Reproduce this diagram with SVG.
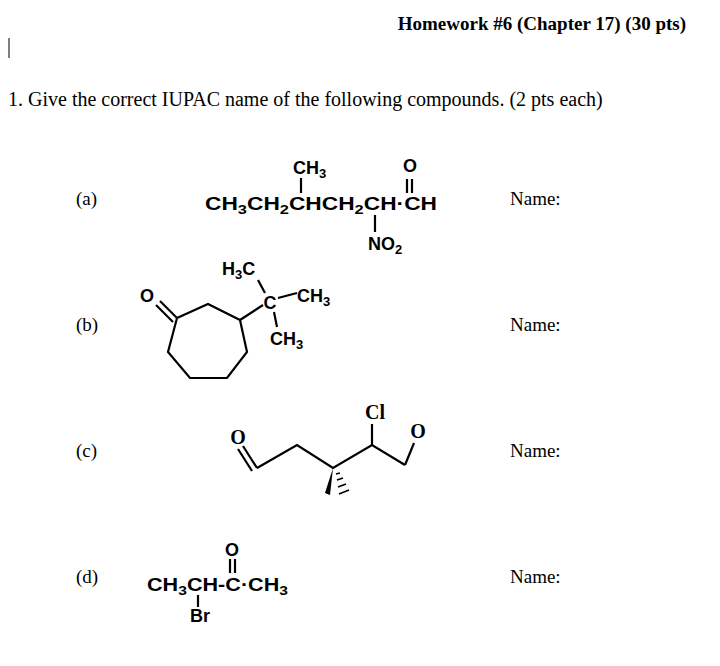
<svg xmlns="http://www.w3.org/2000/svg" width="720" height="666" viewBox="0 0 720 666">
<style>
.s{font-family:"Liberation Serif",serif;font-size:19px;fill:#000}
.c{font-family:"Liberation Sans",Arial,sans-serif;font-size:18px;font-weight:bold;fill:#000}
.sub{font-size:13px}
.b{stroke:#000;stroke-width:2.2;fill:none}
</style>
<rect width="720" height="666" fill="#fff"/>
<text x="686" y="30" text-anchor="end" class="s" style="font-weight:bold">Homework #6 (Chapter 17) (30 pts)</text>
<line x1="9" y1="38" x2="9" y2="58" stroke="#000" stroke-width="1"/>
<text x="8" y="106" class="s" style="font-size:20px">1.  Give the correct IUPAC name of the following compounds. (2 pts each)</text>
<g id="labels">
<text x="76" y="205" class="s">(a)</text><text x="510" y="205" class="s">Name:</text>
<text x="76" y="331" class="s">(b)</text><text x="510" y="331" class="s">Name:</text>
<text x="76" y="457" class="s">(c)</text><text x="510" y="457" class="s">Name:</text>
<text x="76" y="583" class="s">(d)</text><text x="510" y="583" class="s">Name:</text>
</g>
<g id="a">
<text x="293" y="174" class="c">CH<tspan class="sub" dy="4">3</tspan></text>
<text x="403" y="172" class="c">O</text>
<text x="205" y="210" class="c" textLength="232" lengthAdjust="spacingAndGlyphs">CH<tspan class="sub" dy="4">3</tspan><tspan dy="-4">CH</tspan><tspan class="sub" dy="4">2</tspan><tspan dy="-4">CHCH</tspan><tspan class="sub" dy="4">2</tspan><tspan dy="-4">CH·CH</tspan></text>
<text x="368" y="250" class="c">NO<tspan class="sub" dy="4">2</tspan></text>
<line class="b" x1="301" y1="178" x2="301" y2="193"/>
<line class="b" x1="375" y1="215" x2="375" y2="232"/>
<line class="b" x1="407" y1="179" x2="407" y2="193"/>
<line class="b" x1="412" y1="179" x2="412" y2="193"/>
</g>
<g id="b">
<polygon class="b" points="177,318 208,304 240,320 247,352 227,378 190,378 168,352"/>
<line class="b" x1="177" y1="318" x2="160" y2="301"/>
<line class="b" x1="173" y1="322" x2="156" y2="305"/>
<text x="147" y="302" class="c" text-anchor="middle">O</text>
<line class="b" x1="240" y1="320" x2="263" y2="305"/>
<text x="270" y="309" class="c" text-anchor="middle">C</text>
<text x="222" y="275" class="c">H<tspan class="sub" dy="4">3</tspan><tspan dy="-4">C</tspan></text>
<text x="297" y="302" class="c">CH<tspan class="sub" dy="4">3</tspan></text>
<text x="270" y="345" class="c">CH<tspan class="sub" dy="4">3</tspan></text>
<line class="b" x1="258" y1="280" x2="265" y2="293"/>
<line class="b" x1="278" y1="298" x2="297" y2="293"/>
<line class="b" x1="274" y1="312" x2="277" y2="327"/>
</g>
<g id="c">
<polyline class="b" points="257,468 297,445 333,468 372,445 405,465"/>
<line class="b" x1="257" y1="468" x2="243" y2="446"/>
<line class="b" x1="252" y1="471" x2="238" y2="449"/>
<line class="b" x1="405" y1="465" x2="414" y2="443"/>
<line class="b" x1="372" y1="445" x2="372" y2="424"/>
<text x="238" y="444" class="s" style="font-size:20px;font-weight:bold" text-anchor="middle">O</text>
<text x="418" y="438" class="s" style="font-size:20px;font-weight:bold" text-anchor="middle">O</text>
<text x="375" y="419" class="s" style="font-size:20px;font-weight:bold" text-anchor="middle">Cl</text>
<polygon points="333,468 330,495 325,493" fill="#000"/>
<g stroke="#000" stroke-width="1.8">
<line x1="336" y1="474" x2="340" y2="473"/>
<line x1="337" y1="480" x2="343" y2="478"/>
<line x1="338" y1="487" x2="346" y2="484"/>
<line x1="339" y1="494" x2="349" y2="490"/>
</g>
</g>
<g id="d">
<text x="147" y="591" class="c" textLength="141" lengthAdjust="spacingAndGlyphs">CH<tspan class="sub" dy="4">3</tspan><tspan dy="-4">CH-C·CH</tspan><tspan class="sub" dy="4">3</tspan></text>
<text x="232" y="556" class="c" text-anchor="middle">O</text>
<line class="b" x1="230" y1="559" x2="230" y2="573"/>
<line class="b" x1="235" y1="559" x2="235" y2="573"/>
<line class="b" x1="198" y1="595" x2="198" y2="607"/>
<text x="190" y="622" class="c">Br</text>
</g>
</svg>
